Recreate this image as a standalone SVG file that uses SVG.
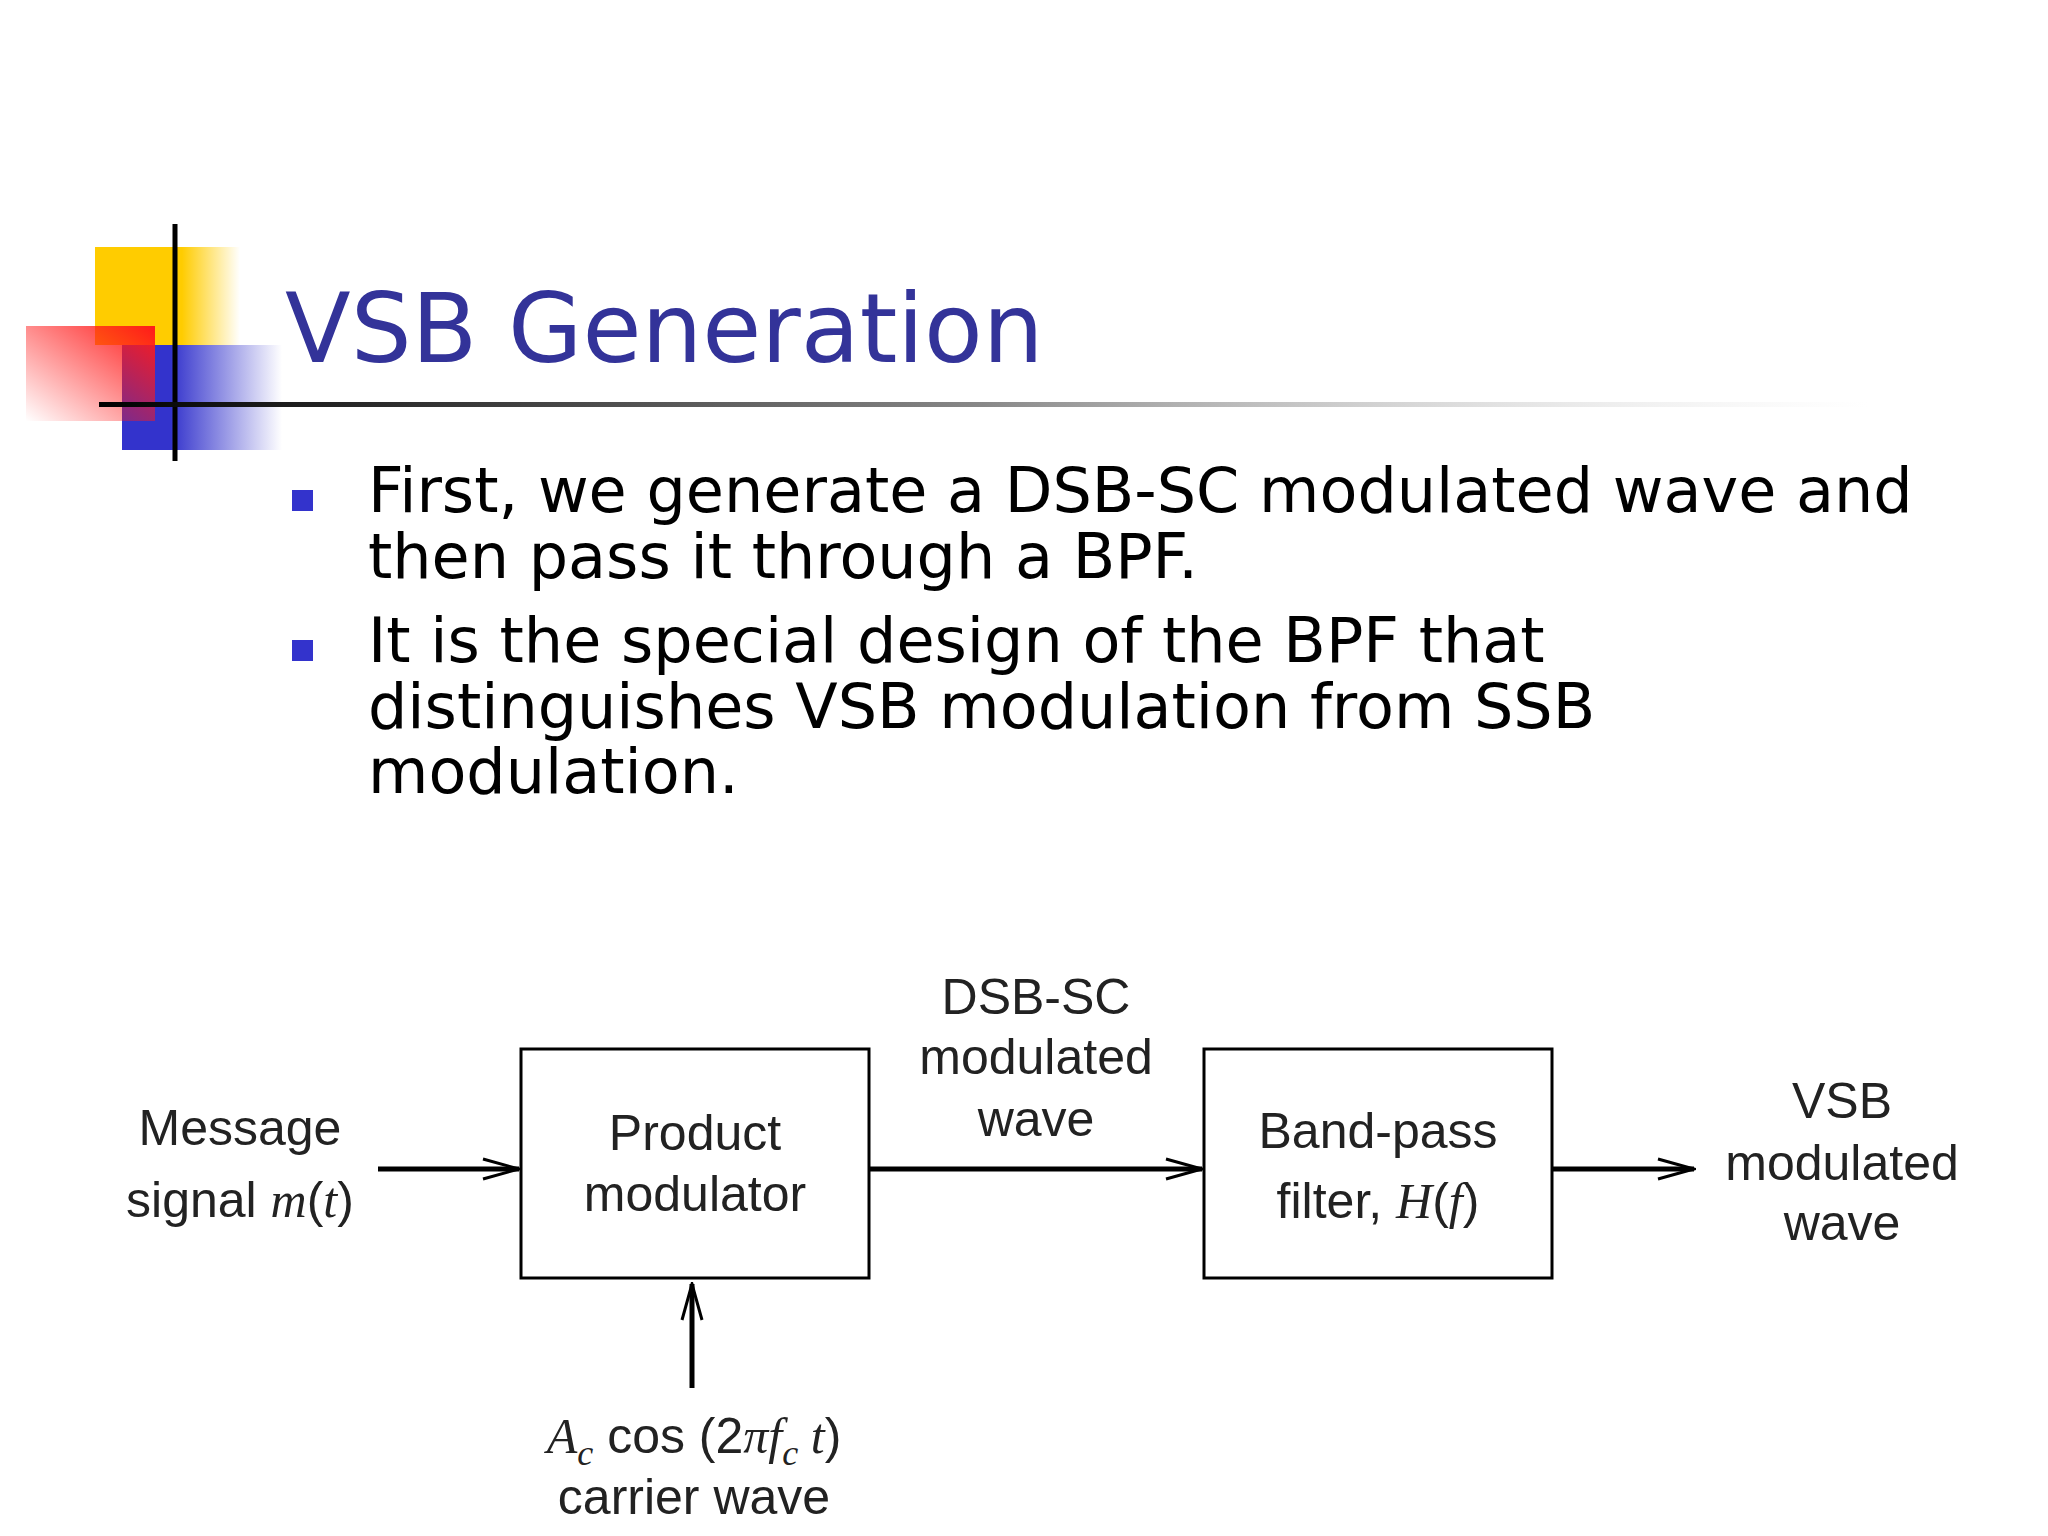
<svg xmlns="http://www.w3.org/2000/svg" width="2048" height="1536" viewBox="0 0 2048 1536">
<defs>
<style>
.t{font-family:"DejaVu Sans",sans-serif;font-size:62px;fill:#000}
.d{font-family:"Liberation Sans",Arial,sans-serif;font-size:50px;fill:#222;text-anchor:middle}
.m{font-family:"Liberation Serif",serif;font-style:italic}
.box{fill:none;stroke:#000;stroke-width:3}
.ln{stroke:#000;stroke-width:5;fill:none}
</style>
<marker id="ah" markerWidth="40" markerHeight="24" refX="38" refY="12" orient="auto" markerUnits="userSpaceOnUse">
<polyline points="2,2 38,12 2,22" fill="none" stroke="#000" stroke-width="3"/>
</marker>
<linearGradient id="red" x1="1" y1="0" x2="0" y2="1"><stop offset="0" stop-color="#ff1a1a"/><stop offset="1" stop-color="#ff1a1a" stop-opacity="0"/></linearGradient>
<linearGradient id="blue" x1="0" y1="0" x2="1" y2="0"><stop offset="0.3" stop-color="#3333cc"/><stop offset="1" stop-color="#3333cc" stop-opacity="0"/></linearGradient>
<linearGradient id="yel" x1="0" y1="0" x2="1" y2="0"><stop offset="0.6" stop-color="#ffcc00"/><stop offset="1" stop-color="#ffcc00" stop-opacity="0"/></linearGradient>
<linearGradient id="hl" x1="0" y1="0" x2="1" y2="0"><stop offset="0" stop-color="#000"/><stop offset="0.5" stop-color="#888"/><stop offset="1" stop-color="#ddd" stop-opacity="0"/></linearGradient>
</defs>
<rect width="2048" height="1536" fill="#fff"/>
<g id="decor">
<rect x="95" y="247" width="145" height="98" fill="url(#yel)"/>
<rect x="122" y="345" width="160" height="105" fill="url(#blue)"/>
<rect x="26" y="326" width="129" height="95" fill="url(#red)"/>
<line x1="175" y1="224" x2="175" y2="461" stroke="#000" stroke-width="5"/>
<rect x="99" y="402" width="1770" height="5" fill="url(#hl)"/>
</g>
<text x="285" y="362" font-family="DejaVu Sans,sans-serif" font-size="96" fill="#333399">VSB Generation</text>
<g id="bullets">
<rect x="292" y="490" width="21" height="21" fill="#3333cc"/>
<rect x="292" y="640" width="21" height="21" fill="#3333cc"/>
<text class="t" x="368" y="512">First, we generate a DSB-SC modulated wave and</text>
<text class="t" x="368" y="578">then pass it through a BPF.</text>
<text class="t" x="368" y="662">It is the special design of the BPF that</text>
<text class="t" x="368" y="728">distinguishes VSB modulation from SSB</text>
<text class="t" x="368" y="793">modulation.</text>
</g>
<g id="product"><rect class="box" x="521" y="1049" width="348" height="229"/>
<text class="d" x="695" y="1150">Product</text><text class="d" x="695" y="1211">modulator</text></g>
<g id="bpf"><rect class="box" x="1204" y="1049" width="348" height="229"/>
<text class="d" x="1378" y="1148">Band-pass</text><text class="d" x="1378" y="1218">filter, <tspan class="m">H</tspan>(<tspan class="m">f</tspan>)</text></g>
<g id="labels">
<text class="d" x="240" y="1145">Message</text>
<text class="d" x="240" y="1217">signal <tspan class="m">m</tspan>(<tspan class="m">t</tspan>)</text>
<text class="d" x="1036" y="1014">DSB-SC</text>
<text class="d" x="1036" y="1074">modulated</text>
<text class="d" x="1036" y="1136">wave</text>
<text class="d" x="1842" y="1118">VSB</text>
<text class="d" x="1842" y="1180">modulated</text>
<text class="d" x="1842" y="1240">wave</text>
<text class="d" x="694" y="1453"><tspan class="m">A</tspan><tspan class="m" font-size="36" dy="12">c</tspan><tspan dy="-12"> cos (2</tspan><tspan class="m">πf</tspan><tspan class="m" font-size="36" dy="12">c</tspan><tspan class="m" dy="-12"> t</tspan>)</text>
<text class="d" x="694" y="1514">carrier wave</text>
</g>
<g id="connectors">
<line class="ln" x1="378" y1="1169" x2="519" y2="1169" marker-end="url(#ah)"/>
<line class="ln" x1="869" y1="1169" x2="1202" y2="1169" marker-end="url(#ah)"/>
<line class="ln" x1="1552" y1="1169" x2="1694" y2="1169" marker-end="url(#ah)"/>
<line class="ln" x1="692" y1="1388" x2="692" y2="1284" marker-end="url(#ah)"/>
</g>
</svg>
